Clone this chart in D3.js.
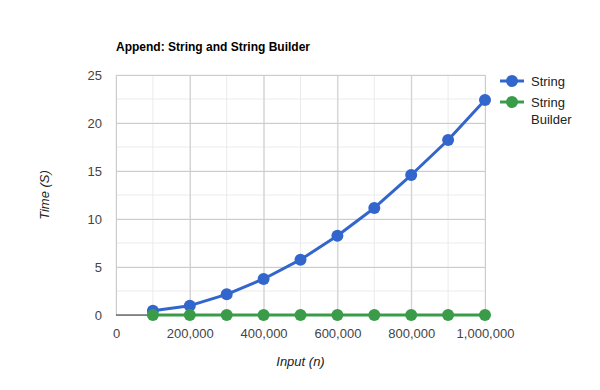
<!DOCTYPE html>
<html>
<head>
<meta charset="utf-8">
<script src="https://cdn.jsdelivr.net/npm/d3@7"></script>
<style>
  body { margin: 0; background: #fff; }
  text { font-family: Arial, "Liberation Sans", sans-serif; }
</style>
</head>
<body>
<script>
var inputs = [100000, 200000, 300000, 400000, 500000, 600000, 700000, 800000, 900000, 1000000];
var stringTimes = [0.45, 0.97, 2.15, 3.75, 5.76, 8.26, 11.15, 14.58, 18.23, 22.4];
var builderTimes = [0.01, 0.01, 0.01, 0.01, 0.01, 0.01, 0.01, 0.01, 0.01, 0.01];
var seriesNames = ["String", "String Builder"];
var yTicks = [0, 5, 10, 15, 20, 25];
var xTicks = [0, 200000, 400000, 600000, 800000, 1000000];

var width = 600, height = 390;
var plotLeft = 116, plotRight = 485, plotTop = 75, plotBottom = 315;
var colors = ["#3366cc", "#3a9c48"];

var svg = d3.select("body")
  .append("svg")
    .attr("width", width)
    .attr("height", height);

var x = d3.scaleLinear().domain([0, 1000000]).range([plotLeft, plotRight]);
var y = d3.scaleLinear().domain([0, 25]).range([plotBottom, plotTop]);

// minor grid
svg.append("g").selectAll("line")
  .data(d3.range(0, 1000001, 100000))
  .enter().append("line")
    .attr("x1", function(d) { return x(d); })
    .attr("x2", function(d) { return x(d); })
    .attr("y1", plotTop).attr("y2", plotBottom)
    .style("stroke", "#ebebeb");
svg.append("g").selectAll("line")
  .data(d3.range(0, 25.1, 2.5))
  .enter().append("line")
    .attr("y1", function(d) { return y(d); })
    .attr("y2", function(d) { return y(d); })
    .attr("x1", plotLeft).attr("x2", plotRight)
    .style("stroke", "#ebebeb");

// major grid + labels
var xAxis = d3.axisBottom(x).tickValues(xTicks).tickSize(-(plotBottom - plotTop)).tickFormat(d3.format(","));
var yAxis = d3.axisLeft(y).tickValues(yTicks).tickSize(-(plotRight - plotLeft));

var gx = svg.append("g")
  .attr("transform", "translate(0," + plotBottom + ")")
  .call(xAxis);
gx.select(".domain").remove();
gx.selectAll("line").style("stroke", "#cccccc");
gx.selectAll("text")
  .attr("y", 14)
  .style("font-size", "13px")
  .style("fill", "#444")
  .style("font-family", "Arial, 'Liberation Sans', sans-serif");

var gy = svg.append("g")
  .attr("transform", "translate(" + plotLeft + ",0)")
  .call(yAxis);
gy.select(".domain").remove();
gy.selectAll("line").style("stroke", "#cccccc");
gy.selectAll("text")
  .attr("x", -14)
  .style("font-size", "13px")
  .style("fill", "#444")
  .style("font-family", "Arial, 'Liberation Sans', sans-serif");

// baseline
svg.append("line")
  .attr("x1", plotLeft).attr("x2", plotRight)
  .attr("y1", y(0)).attr("y2", y(0))
  .style("stroke", "#333");

var allSeries = [stringTimes, builderTimes];
var line = d3.line()
  .x(function(d, i) { return x(inputs[i]); })
  .y(function(d) { return y(d); });

allSeries.forEach(function(data, s) {
  var g = svg.append("g");
  g.append("path")
    .datum(data)
    .attr("d", line)
    .style("fill", "none")
    .style("stroke", colors[s])
    .style("stroke-width", 3)
    .style("stroke-linejoin", "round");
  g.selectAll("circle")
    .data(data)
    .enter().append("circle")
      .attr("cx", function(d, i) { return x(inputs[i]); })
      .attr("cy", function(d) { return y(d); })
      .attr("r", 6)
      .style("fill", colors[s]);
});

// title
svg.append("text")
  .attr("x", plotLeft)
  .attr("y", 51)
  .style("font-size", "12px")
  .style("font-weight", "bold")
  .style("fill", "#000")
  .text("Append: String and String Builder");

// axis titles
svg.append("text")
  .attr("x", (plotLeft + plotRight) / 2)
  .attr("y", 366)
  .attr("text-anchor", "middle")
  .style("font-size", "13px")
  .style("font-style", "italic")
  .style("fill", "#222")
  .text("Input (n)");

svg.append("text")
  .attr("transform", "translate(49," + ((plotTop + plotBottom) / 2) + ") rotate(-90)")
  .attr("text-anchor", "middle")
  .style("font-size", "13px")
  .style("font-style", "italic")
  .style("fill", "#222")
  .text("Time (S)");

// legend
var legend = svg.append("g");
var legendY = [81, 102];
seriesNames.forEach(function(name, i) {
  legend.append("line")
    .attr("x1", 500).attr("x2", 524)
    .attr("y1", legendY[i]).attr("y2", legendY[i])
    .style("stroke", colors[i])
    .style("stroke-width", 3);
  legend.append("circle")
    .attr("cx", 512).attr("cy", legendY[i]).attr("r", 6)
    .style("fill", colors[i]);
  var words = name.split(" ");
  var t = legend.append("text")
    .attr("x", 531).attr("y", legendY[i] + 5)
    .style("font-size", "13px")
    .style("fill", "#222");
  if (words.length > 1) {
    t.append("tspan").attr("x", 531).text(words[0]);
    t.append("tspan").attr("x", 531).attr("dy", 17).text(words.slice(1).join(" "));
  } else {
    t.text(name);
  }
});
</script>
</body>
</html>
